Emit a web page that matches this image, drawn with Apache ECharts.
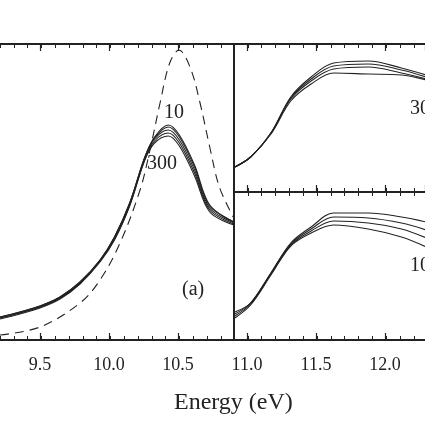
<!DOCTYPE html>
<html><head><meta charset="utf-8">
<script src="https://cdn.jsdelivr.net/npm/echarts@6/dist/echarts.min.js"></script>
<style>html,body{margin:0;background:#fff}#c{width:425px;height:425px}</style>
</head><body><div id="c"></div>
<script>
// left panel (a): energies and curves (arbitrary units)
const energyA = [9.21, 9.355, 9.5, 9.645, 9.79, 9.935, 10.04, 10.15, 10.26, 10.33, 10.43, 10.51, 10.62, 10.73, 10.906];
const curvesA = [
  [23, 28, 34, 43, 58, 80, 103, 137, 183, 203, 215, 205, 175, 135, 118],
  [23, 28, 34, 43, 58, 80, 103, 137, 183, 202, 213, 203, 173, 134, 118],
  [22, 27, 33, 42, 57, 79, 102, 136, 182, 201, 210, 200, 170, 132, 117],
  [22, 27, 33, 42, 57, 79, 101, 135, 181, 199, 207, 197, 167, 130, 116],
  [21, 26, 32, 41, 56, 78, 100, 134, 180, 197, 204, 194, 164, 128, 115]
];
const energyDash = [9.21, 9.5, 9.79, 9.935, 10.08, 10.225, 10.297, 10.37, 10.44, 10.507, 10.587, 10.66, 10.73, 10.80, 10.9];
const dashA = [5, 13, 37, 60, 97, 150, 190, 237, 277, 290, 273, 237, 193, 153, 123];

// right panels
const energyR = [10.906, 11.02, 11.167, 11.31, 11.457, 11.62, 11.87, 12.11, 12.29];
const curvesTop = [
  [25, 35, 59, 95, 115, 129, 131, 124, 117],
  [25, 35, 59, 94, 113, 126, 128, 122, 115],
  [25, 35, 59, 93, 111, 123, 125, 119, 113],
  [25, 35, 58, 91, 108, 119, 118, 117, 112]
];
const curvesBottom = [
  [28, 37, 67, 97, 113, 127, 127, 123, 118],
  [26, 37, 67, 96, 111, 123, 122, 117, 110],
  [24, 36, 66, 95, 109, 119, 117, 111, 102],
  [22, 35, 65, 94, 107, 115, 111, 103, 93]
];

const FONT = '"Liberation Serif", "DejaVu Serif", serif';
const INK = '#222';
const zip = (xs, ys) => xs.map((x, i) => [x, ys[i]]);

// minor-tick axes (every 0.1 eV) with the frame lines
function xAx(grid, min, max, pos) {
  return {
    type: 'value', gridIndex: grid, min, max, interval: 0.1, position: pos,
    axisLine: { show: true, onZero: false, lineStyle: { color: INK, width: 2 } },
    axisTick: { show: true, inside: true, length: 4, lineStyle: { color: INK, width: 1 } },
    splitLine: { show: false }, axisLabel: { show: false }
  };
}
// major-tick axes (every 0.5 eV), no line
function xMaj(grid, min, max, pos, labels) {
  return {
    type: 'value', gridIndex: grid, min, max, interval: 0.5, position: pos,
    axisLine: { show: false, onZero: false },
    axisTick: { show: true, inside: true, length: 7, lineStyle: { color: INK, width: 1.2 } },
    splitLine: { show: false },
    axisLabel: {
      show: labels, margin: 16, fontFamily: FONT, fontSize: 18, color: INK,
      formatter: v => v.toFixed(1), showMaxLabel: false
    }
  };
}
function yAx(grid, max) {
  return { type: 'value', gridIndex: grid, min: 0, max, show: false };
}
function line(data, xi, yi, dashed) {
  return {
    type: 'line', xAxisIndex: xi, yAxisIndex: yi, data, symbol: 'none', smooth: 0.35,
    lineStyle: { color: INK, width: 1.1, type: dashed ? [9, 6] : 'solid' },
    silent: true
  };
}

const series = [];
curvesA.forEach(c => series.push(line(zip(energyA, c), 0, 0)));
series.push(line(zip(energyDash, dashA), 0, 0, true));
curvesTop.forEach(c => series.push(line(zip(energyR, c), 2, 1)));
curvesBottom.forEach(c => series.push(line(zip(energyR, c), 4, 2)));

const chart = echarts.init(document.getElementById('c'));
chart.setOption({
  animation: false,
  grid: [
    { left: 0, top: 44, width: 234, height: 296 },
    { left: 234, top: 44, right: 0, height: 148 },
    { left: 234, top: 192, right: 0, height: 148 },
    { left: 40, top: 44, right: 0, height: 296 },
    { left: 247, top: 44, right: 0, height: 148 }
  ],
  xAxis: [
    xAx(0, 9.21, 10.906, 'bottom'),
    xAx(0, 9.21, 10.906, 'top'),
    xAx(1, 10.9, 12.28, 'bottom'),
    xAx(1, 10.9, 12.28, 'top'),
    xAx(2, 10.9, 12.28, 'bottom'),
    xAx(2, 10.9, 12.28, 'top'),
    xMaj(3, 9.5, 12.29, 'bottom', true),
    xMaj(3, 9.5, 12.29, 'top', false),
    xMaj(4, 11.0, 12.29, 'bottom', false)
  ],
  yAxis: [yAx(0, 296), yAx(1, 148), yAx(2, 148), yAx(3, 1), yAx(4, 1)],
  series,
  graphic: [
    { type: 'line', shape: { x1: 234, y1: 44, x2: 234, y2: 340 }, style: { stroke: INK, lineWidth: 2 } },
    { type: 'text', left: 164, top: 103, style: { text: '10', font: '20px ' + FONT, fill: INK } },
    { type: 'text', left: 147, top: 154, style: { text: '300', font: '20px ' + FONT, fill: INK } },
    { type: 'text', left: 182, top: 280, style: { text: '(a)', font: '20px ' + FONT, fill: INK } },
    { type: 'text', left: 410, top: 99, style: { text: '300', font: '20px ' + FONT, fill: INK } },
    { type: 'text', left: 410, top: 256, style: { text: '10', font: '20px ' + FONT, fill: INK } },
    { type: 'text', left: 174, top: 391, style: { text: 'Energy (eV)', font: '24px ' + FONT, fill: INK } }
  ]
});
</script></body></html>
